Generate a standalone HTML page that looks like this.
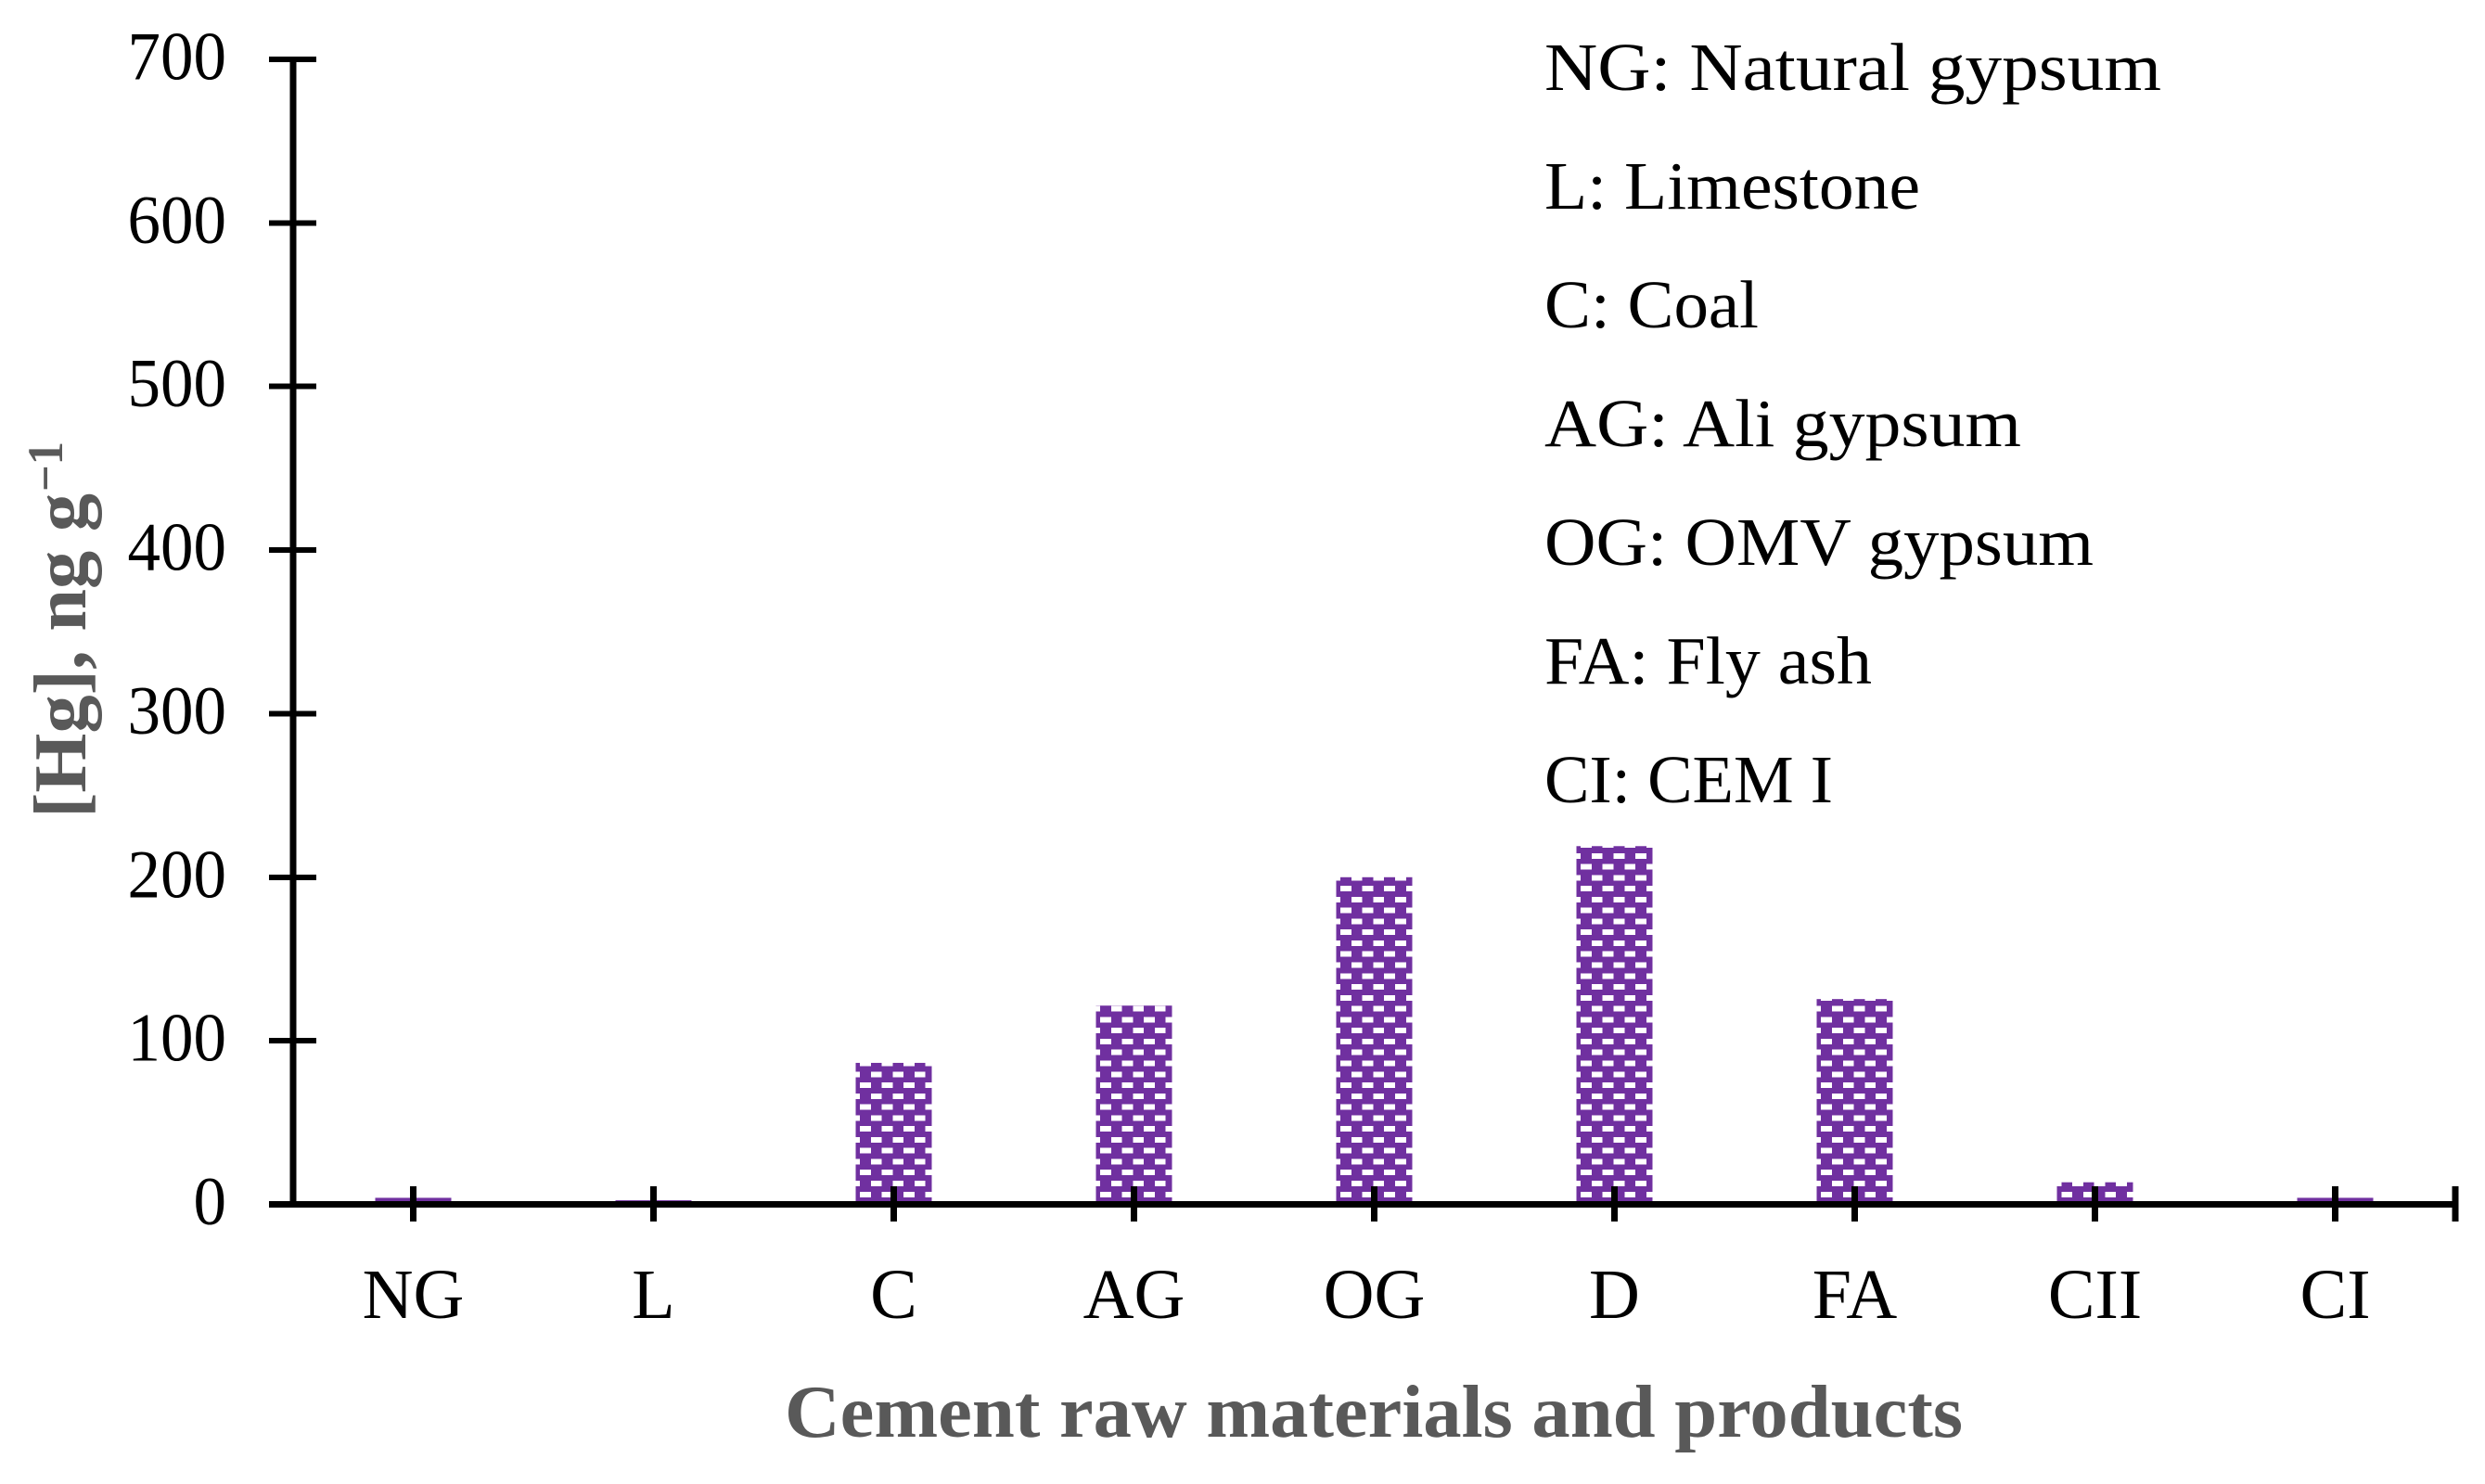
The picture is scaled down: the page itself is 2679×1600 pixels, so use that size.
<!DOCTYPE html>
<html lang="en">
<head>
<meta charset="utf-8">
<title>Hg in cement raw materials and products</title>
<style>
html,body{margin:0;padding:0;background:#fff;width:2679px;height:1600px;overflow:hidden}
svg{display:block}
text{font-family:"Liberation Serif",serif;fill:#000}
.tick{font-size:74px}
.xtick{font-size:76px}
.legend{font-size:73px}
.title{font-size:81px;font-weight:bold;fill:#595959}
</style>
</head>
<body>
<svg id="chart" xmlns="http://www.w3.org/2000/svg" width="2679" height="1600" viewBox="0 0 2679 1600">
  <defs>
    <pattern id="brick" patternUnits="userSpaceOnUse" x="927" y="1167" width="471" height="471">
      <rect id="brick-base" width="471" height="471" fill="#7030a0"/>
    </pattern>
  </defs>
  <g id="bars"></g>
  <g id="axes" shape-rendering="crispEdges"></g>
  <g id="labels"></g>

  <g>
    <text class="legend" x="1665" y="97" textLength="665" lengthAdjust="spacingAndGlyphs">NG: Natural gypsum</text>
    <text class="legend" x="1665" y="225" textLength="405" lengthAdjust="spacingAndGlyphs">L: Limestone</text>
    <text class="legend" x="1665" y="353" textLength="231" lengthAdjust="spacingAndGlyphs">C: Coal</text>
    <text class="legend" x="1665" y="481" textLength="514" lengthAdjust="spacingAndGlyphs">AG: Ali gypsum</text>
    <text class="legend" x="1665" y="609" textLength="592" lengthAdjust="spacingAndGlyphs">OG: OMV gypsum</text>
    <text class="legend" x="1665" y="737" textLength="353" lengthAdjust="spacingAndGlyphs">FA: Fly ash</text>
    <text class="legend" x="1665" y="865" textLength="311" lengthAdjust="spacingAndGlyphs">CI: CEM I</text>
  </g>

  <text class="title" x="846" y="1549" textLength="1270" lengthAdjust="spacingAndGlyphs">Cement raw materials and products</text>
  <text class="title" transform="translate(92,882) rotate(-90)" textLength="350" lengthAdjust="spacingAndGlyphs">[Hg], ng g</text>
  <text class="title" style="font-size:54px" transform="translate(67,530) rotate(-90)" textLength="54" lengthAdjust="spacingAndGlyphs">−1</text>
</svg>
<script>
const categories = ['NG', 'L', 'C', 'AG', 'OG', 'D', 'FA', 'CII', 'CI'];
const hgValues = [4, 2.5, 86.5, 121.5, 200, 219, 125.5, 13.5, 4];
const yTickLabels = [0, 100, 200, 300, 400, 500, 600, 700];

const NS = 'http://www.w3.org/2000/svg';
const plotLeft = 316, plotRight = 2647, plotBottom = 1298.5, plotTop = 64, yMax = 700;
const axisStroke = 7, barWidth = 82;

function xScale(i) {
  return plotLeft + (plotRight - plotLeft) * (i + 0.5) / categories.length;
}
function yScale(v) {
  return plotBottom - (plotBottom - plotTop) * v / yMax;
}
function make(tag, attrs, parent) {
  const el = document.createElementNS(NS, tag);
  for (const k in attrs) el.setAttribute(k, attrs[k]);
  parent.appendChild(el);
  return el;
}

const brick = document.getElementById('brick');
for (let r = 0; r < 20; r++) {
  for (let c = 0; c < 20; c++) {
    make('rect', { x: c * 23.55, y: r * 23.55, width: 11.8, height: 6, fill: '#fff', 'shape-rendering': 'crispEdges' }, brick);
    make('rect', { x: c * 23.55 + 11.8, y: r * 23.55 + 11.8, width: 11.75, height: 6, fill: '#fff', 'shape-rendering': 'crispEdges' }, brick);
  }
}

const barsG = document.getElementById('bars');
const axesG = document.getElementById('axes');
const labelsG = document.getElementById('labels');

hgValues.forEach(function (v, i) {
  const bar = make('rect', {
    x: xScale(i) - barWidth / 2,
    y: yScale(v),
    width: barWidth,
    height: plotBottom - yScale(v),
    fill: 'url(#brick)'
  }, barsG);
  
  
});

const yAxis = make('line', { x1: plotLeft, x2: plotLeft, y1: plotTop, y2: plotBottom, stroke: '#000', 'stroke-width': axisStroke }, axesG);



const xAxis = make('line', { x1: 290, x2: plotRight + 3.5, y1: plotBottom, y2: plotBottom, stroke: '#000', 'stroke-width': axisStroke }, axesG);



yTickLabels.forEach(function (t) {
  const y = yScale(t);
  const tick = make('line', { x1: 290, x2: 341, y1: y, y2: y, stroke: '#000', 'stroke-width': 6 }, axesG);
  
  
  const s = String(t);
  const label = make('text', {
    class: 'tick', x: 244, y: y + 21.5, 'text-anchor': 'end',
    textLength: s.length * 35.5, lengthAdjust: 'spacingAndGlyphs'
  }, labelsG);
  label.textContent = s;
  
  
});

categories.forEach(function (c, i) {
  const x = xScale(i);
  const tick = make('line', { x1: x, x2: x, y1: 1279, y2: 1317, stroke: '#000', 'stroke-width': 7 }, axesG);
  
  
  const label = make('text', { class: 'xtick', x: x, y: 1421, 'text-anchor': 'middle' }, labelsG);
  label.textContent = c;
  
  
});

const endTick = make('line', { x1: plotRight, x2: plotRight, y1: 1279, y2: 1317, stroke: '#000', 'stroke-width': 7 }, axesG);


</script>
</body>
</html>
